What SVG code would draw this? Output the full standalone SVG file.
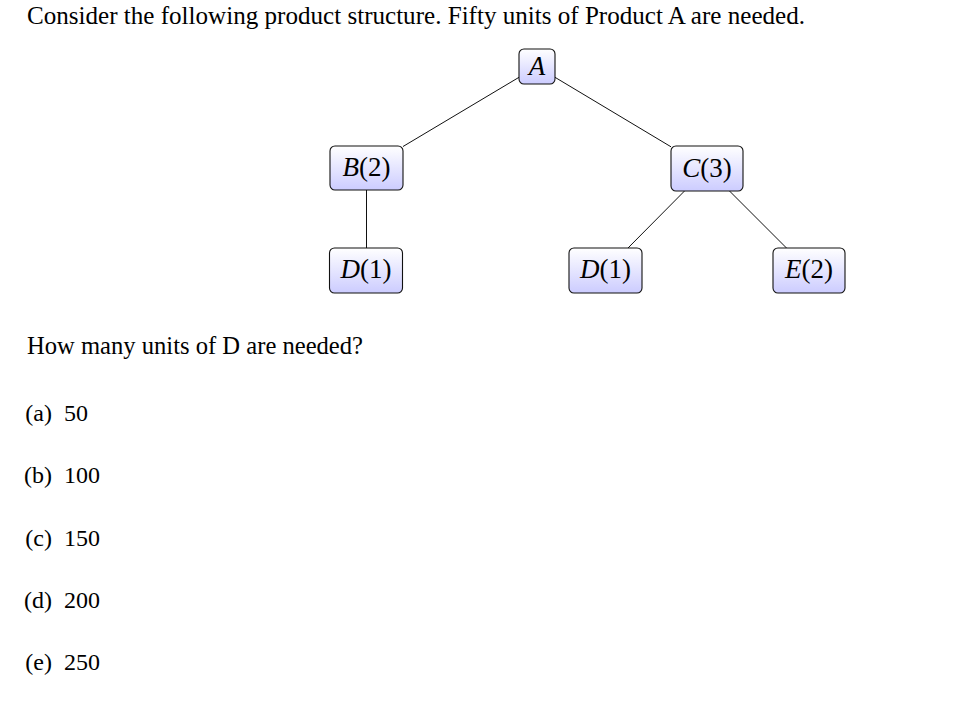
<svg xmlns="http://www.w3.org/2000/svg" width="954" height="710" viewBox="0 0 954 710">
<defs>
<linearGradient id="nodeFill" x1="0" y1="0" x2="0" y2="1">
<stop offset="0" stop-color="#ffffff"/>
<stop offset="1" stop-color="#ccccff"/>
</linearGradient>
<style>
.txt{font-family:"Liberation Serif","Times New Roman",serif;font-size:25px;fill:#000}
.opt{font-family:"Liberation Serif","Times New Roman",serif;font-size:24px;fill:#000}
.box{fill:url(#nodeFill);stroke:#111;stroke-width:1.1}
.lbl{font-family:"Liberation Serif","Times New Roman",serif;font-size:27px;fill:#000;text-anchor:middle}
.it{font-style:italic}
.edge{stroke:#111;stroke-width:1;fill:none}
</style>
</defs>
<rect width="954" height="710" fill="#ffffff"/>
<text class="txt" x="27" y="23.5" textLength="778" lengthAdjust="spacingAndGlyphs">Consider the following product structure. Fifty units of Product A are needed.</text>
<g id="connectors">
<line class="edge" x1="519" y1="77.3" x2="403" y2="146.5"/>
<line class="edge" x1="555" y1="77.3" x2="671" y2="146.8"/>
<line class="edge" x1="366.5" y1="190" x2="366.5" y2="248"/>
<line class="edge" x1="684.5" y1="191" x2="628" y2="248"/>
<line class="edge" x1="729.5" y1="191" x2="786.5" y2="248"/>
</g>
<g id="node-A">
<rect class="box" x="519" y="49" width="36" height="35" rx="5"/>
<text class="lbl" x="537" y="75"><tspan class="it">A</tspan></text>
</g>
<g id="node-B">
<rect class="box" x="330" y="146" width="73" height="44" rx="5"/>
<text class="lbl" x="366.5" y="176"><tspan class="it">B</tspan>(2)</text>
</g>
<g id="node-D1">
<rect class="box" x="329.5" y="248" width="73" height="45" rx="5"/>
<text class="lbl" x="366" y="278"><tspan class="it">D</tspan>(1)</text>
</g>
<g id="node-C">
<rect class="box" x="671" y="146" width="72" height="45" rx="5"/>
<text class="lbl" x="707" y="176.5"><tspan class="it">C</tspan>(3)</text>
</g>
<g id="node-D2">
<rect class="box" x="569" y="248" width="73" height="45" rx="5"/>
<text class="lbl" x="605.5" y="278"><tspan class="it">D</tspan>(1)</text>
</g>
<g id="node-E">
<rect class="box" x="773" y="248" width="72" height="45" rx="5"/>
<text class="lbl" x="809" y="278"><tspan class="it">E</tspan>(2)</text>
</g>
<text class="txt" x="27" y="353.5" textLength="336" lengthAdjust="spacingAndGlyphs">How many units of D are needed?</text>
<g id="options">
<text class="opt" x="52" y="421" text-anchor="end">(a)</text>
<text class="opt" x="64" y="421">50</text>
<text class="opt" x="52" y="483" text-anchor="end">(b)</text>
<text class="opt" x="64" y="483">100</text>
<text class="opt" x="52" y="545.5" text-anchor="end">(c)</text>
<text class="opt" x="64" y="545.5">150</text>
<text class="opt" x="52" y="607.5" text-anchor="end">(d)</text>
<text class="opt" x="64" y="607.5">200</text>
<text class="opt" x="52" y="670" text-anchor="end">(e)</text>
<text class="opt" x="64" y="670">250</text>
</g>
</svg>
